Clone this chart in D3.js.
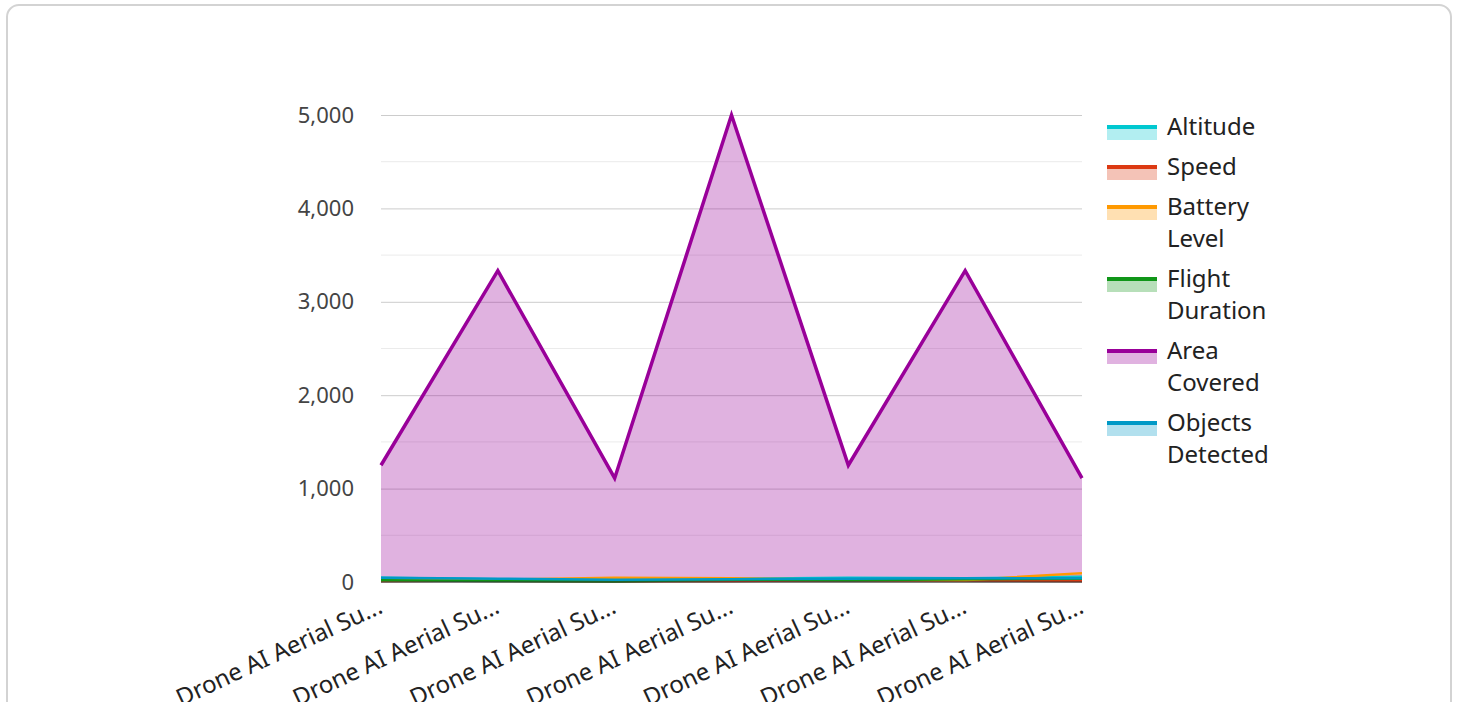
<!DOCTYPE html>
<html>
<head>
<meta charset="utf-8">
<script src="https://cdn.jsdelivr.net/npm/d3@7/dist/d3.min.js"></script>
<style>
  html, body { margin: 0; padding: 0; background: #fff; overflow: hidden; }
  svg { display: block; font-family: "Noto Sans", "Open Sans", sans-serif; }
</style>
</head>
<body>
<svg id="chart" width="1458" height="702"></svg>
<script>
const categories = ["Drone AI Aerial Su...", "Drone AI Aerial Su...", "Drone AI Aerial Su...", "Drone AI Aerial Su...", "Drone AI Aerial Su...", "Drone AI Aerial Su...", "Drone AI Aerial Su..."];
const seriesNames = ["Altitude", "Speed", "Battery Level", "Flight Duration", "Area Covered", "Objects Detected"];
const altitude = [45, 30, 20, 35, 45, 40, 55];
const speed = [10, 15, 8, 12, 20, 15, 10];
const batteryLevel = [15, 25, 45, 40, 25, 20, 95];
const flightDuration = [20, 10, 5, 25, 20, 30, 35];
const areaCovered = [1250, 3333, 1111, 5000, 1250, 3333, 1111];
const objectsDetected = [45, 35, 25, 30, 35, 40, 40];
const yTicks = [0, 1000, 2000, 3000, 4000, 5000];
const colors = ["#00c8d0", "#dc3912", "#ff9900", "#109618", "#990099", "#0099c6"];
const legendLines = [["Altitude"], ["Speed"], ["Battery", "Level"], ["Flight", "Duration"], ["Area", "Covered"], ["Objects", "Detected"]];

const seriesValues = [altitude, speed, batteryLevel, flightDuration, areaCovered, objectsDetected];

const svg = d3.select("#chart");

// frame
svg.append("rect")
  .attr("x", 7).attr("y", 5).attr("width", 1444).attr("height", 720)
  .attr("rx", 12).attr("ry", 12)
  .attr("fill", "#fff").attr("stroke", "#d3d3d3").attr("stroke-width", 2);

const pLeft = 381, pRight = 1082, pTop = 115, pBottom = 582;
const x = d3.scalePoint().domain(d3.range(categories.length)).range([pLeft, pRight]);
const y = d3.scaleLinear().domain([0, 5000]).range([pBottom, pTop]);

// minor gridlines
const minor = d3.range(500, 5000, 1000);
svg.append("g").selectAll("line").data(minor).join("line")
  .attr("x1", pLeft).attr("x2", pRight)
  .attr("y1", d => y(d)).attr("y2", d => y(d))
  .attr("stroke", "#ebebeb").attr("stroke-width", 1);

// major gridlines via axis
const yAxis = d3.axisLeft(y).tickValues(yTicks).tickSize(-(pRight - pLeft)).tickPadding(27)
  .tickFormat(d3.format(","));
const gy = svg.append("g").attr("transform", `translate(${pLeft},0)`).call(yAxis);
gy.select(".domain").remove();
gy.selectAll(".tick line").attr("stroke", "#cccccc").attr("stroke-width", 1);
gy.selectAll(".tick text").attr("fill", "#444").style("font-size", "22px")
  .style("font-family", "'Noto Sans', sans-serif");

// areas
const area = d3.area().x((d, i) => x(i)).y0(y(0)).y1(d => y(d));
const line = d3.line().x((d, i) => x(i)).y(d => y(d));

const gArea = svg.append("g");
seriesValues.forEach((vals, si) => {
  gArea.append("path").datum(vals)
    .attr("d", area)
    .attr("fill", colors[si]).attr("fill-opacity", 0.3);
});
const gLine = svg.append("g");
seriesValues.forEach((vals, si) => {
  gLine.append("path").datum(vals)
    .attr("d", line)
    .attr("fill", "none")
    .attr("stroke", colors[si])
    .attr("stroke-width", si === 4 ? 3.5 : 2.5)
    .attr("stroke-linejoin", "miter");
});

// baseline
svg.append("line").attr("x1", pLeft).attr("x2", pRight)
  .attr("y1", y(0)).attr("y2", y(0)).attr("stroke", "#333").attr("stroke-width", 1);

// x labels
const gx = svg.append("g");
categories.forEach((c, i) => {
  gx.append("text")
    .attr("transform", `translate(${x(i) + 3},${pBottom + 30}) rotate(-25)`)
    .attr("text-anchor", "end")
    .attr("fill", "#222")
    .style("font-size", "24px")
    .text(c);
});

// legend
const legend = svg.append("g");
let ly = 125;
legendLines.forEach((lines, i) => {
  const g = legend.append("g");
  g.append("rect").attr("x", 1107).attr("y", ly).attr("width", 50).attr("height", 15)
    .attr("fill", colors[i]).attr("fill-opacity", 0.3);
  g.append("rect").attr("x", 1107).attr("y", ly).attr("width", 50).attr("height", 4)
    .attr("fill", colors[i]);
  lines.forEach((t, j) => {
    g.append("text").attr("x", 1167).attr("y", ly + 4 + j * 32)
      .attr("dominant-baseline", "middle")
      .attr("fill", "#222").style("font-size", "24px").text(t);
  });
  ly += lines.length * 32 + 8;
});
</script>
</body>
</html>
